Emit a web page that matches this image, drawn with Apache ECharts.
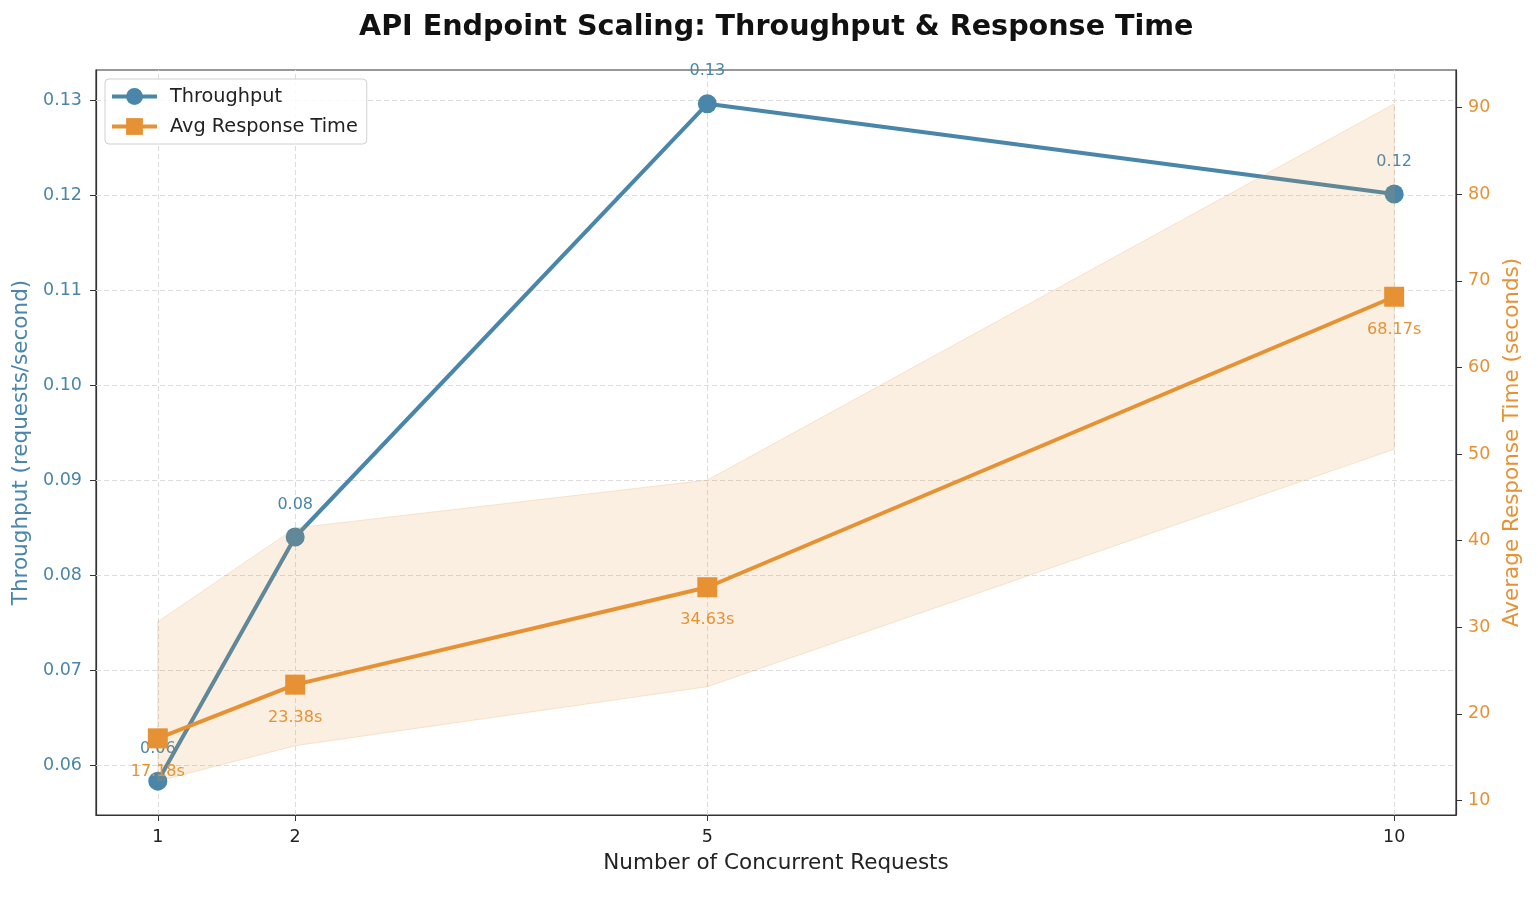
<!DOCTYPE html>
<html>
<head>
<meta charset="utf-8">
<script src="https://cdn.jsdelivr.net/npm/echarts@6/dist/echarts.min.js"></script>
<style>
html,body{margin:0;padding:0;background:#fff;}
#chart{width:1538px;height:898px;}
</style>
</head>
<body>
<div id="chart"></div>
<script>
// ---- data ----
const concurrency = [1, 2, 5, 10];
const throughput = [0.0583, 0.0840, 0.1296, 0.1201];
const responseTime = [17.18, 23.38, 34.63, 68.17];
const responseLower = [12.24, 16.33, 23.14, 50.56];
const responseUpper = [30.65, 41.47, 47.0, 90.44];
const xTicks = [1, 2, 5, 10];
const leftTicks = [0.06, 0.07, 0.08, 0.09, 0.10, 0.11, 0.12, 0.13];
const rightTicks = [10, 20, 30, 40, 50, 60, 70, 80, 90];

const BLUE = '#4986AA';
const ORANGE = '#E69234';
const FONT = 'DejaVu Sans';

const chart = echarts.init(document.getElementById('chart'), null, {renderer: 'canvas'});

const gridLineStyle = {color: '#dcdcdc', type: [5, 3], width: 1};

const option = {
  animation: false,
  backgroundColor: '#fff',
  textStyle: {fontFamily: FONT},
  title: {
    text: 'API Endpoint Scaling: Throughput & Response Time',
    left: 354,
    top: 8,
    textStyle: {fontFamily: FONT, fontSize: 28.6, fontWeight: 'bold', color: '#111'}
  },
  legend: {
    data: ['Throughput', 'Avg Response Time'],
    orient: 'vertical',
    left: 105,
    top: 79,
    padding: [8, 9, 8, 5],
    itemWidth: 45,
    itemHeight: 21,
    itemGap: 11,
    lineStyle: {width: 'inherit'},
    backgroundColor: 'rgba(255,255,255,0.85)',
    borderColor: '#d0d0d0',
    borderWidth: 1,
    borderRadius: 4,
    textStyle: {fontFamily: FONT, fontSize: 19.3, color: '#222', padding: [0, 0, 0, 8]}
  },
  grid: {
    left: 96, right: 82, top: 70, bottom: 83,
    show: true, borderColor: '#333', borderWidth: 1.2,
    containLabel: false
  },
  xAxis: {
    type: 'value',
    min: 0.55, max: 10.45,
    name: 'Number of Concurrent Requests',
    nameLocation: 'middle',
    nameGap: 37,
    nameTextStyle: {fontFamily: FONT, fontSize: 21.5, color: '#222'},
    axisLine: {show: true, lineStyle: {color: '#333', width: 1.2}},
    axisTick: {show: true, length: 6, customValues: xTicks, lineStyle: {color: '#333'}},
    axisLabel: {customValues: xTicks, margin: 13, fontFamily: FONT, fontSize: 17.5, color: '#222'},
    splitLine: {show: false}
  },
  yAxis: [
    {
      type: 'value',
      min: 0.054737, max: 0.133158,
      position: 'left',
      name: 'Throughput (requests/second)',
      nameLocation: 'middle',
      nameGap: 55,
      nameTextStyle: {fontFamily: FONT, fontSize: 21.5, color: BLUE},
      axisLine: {show: true, lineStyle: {color: '#333', width: 1.2}},
      axisTick: {show: true, length: 6, customValues: leftTicks, lineStyle: {color: '#333'}},
      axisLabel: {customValues: leftTicks, margin: 14, fontFamily: FONT, fontSize: 17.5, color: BLUE,
        formatter: v => Number(v).toFixed(2)},
      splitLine: {show: false}
    },
    {
      type: 'value',
      min: 8.33, max: 94.35,
      position: 'right',
      name: 'Average Response Time (seconds)',
      nameLocation: 'middle',
      nameGap: 41,
      nameTextStyle: {fontFamily: FONT, fontSize: 21.5, color: ORANGE},
      axisLine: {show: true, lineStyle: {color: '#333', width: 1.2}},
      axisTick: {show: true, length: 6, customValues: rightTicks, lineStyle: {color: '#333'}},
      axisLabel: {customValues: rightTicks, margin: 12, fontFamily: FONT, fontSize: 17.5, color: ORANGE},
      splitLine: {show: false}
    }
  ],
  series: [
    {
      name: 'Throughput',
      type: 'line',
      xAxisIndex: 0, yAxisIndex: 0,
      z: 2,
      data: concurrency.map((c, i) => [c, throughput[i]]),
      symbol: 'circle',
      symbolSize: 19,
      lineStyle: {color: BLUE, width: 4},
      itemStyle: {color: BLUE},
      label: {
        show: true, position: 'top', distance: 15,
        fontFamily: FONT, fontSize: 16, color: BLUE,
        formatter: p => p.value[1].toFixed(2)
      },
      markLine: {
        silent: true, symbol: 'none', z: 1,
        label: {show: false},
        lineStyle: gridLineStyle,
        emphasis: {disabled: true},
        data: xTicks.map(v => ({xAxis: v})).concat(leftTicks.map(v => ({yAxis: v})))
      }
    },
    {
      name: 'Response Band',
      type: 'custom',
      xAxisIndex: 0, yAxisIndex: 1,
      z: 3,
      silent: true,
      data: concurrency.map((c, i) => [c, responseLower[i], responseUpper[i]]),
      encode: {x: 0, y: [1, 2]},
      renderItem: function (params, api) {
        if (params.dataIndex !== 0) return null;
        const top = concurrency.map((c, i) => api.coord([c, responseUpper[i]]));
        const bottom = concurrency.map((c, i) => api.coord([c, responseLower[i]])).reverse();
        return {
          type: 'polygon',
          shape: {points: top.concat(bottom)},
          style: {fill: 'rgba(230,146,52,0.15)', stroke: 'rgba(230,146,52,0.2)', lineWidth: 1}
        };
      }
    },
    {
      name: 'Avg Response Time',
      type: 'line',
      xAxisIndex: 0, yAxisIndex: 1,
      z: 4,
      data: concurrency.map((c, i) => [c, responseTime[i]]),
      symbol: 'rect',
      symbolSize: 20,
      lineStyle: {color: ORANGE, width: 4},
      itemStyle: {color: ORANGE},
      label: {
        show: true, position: 'bottom', distance: 15,
        fontFamily: FONT, fontSize: 16, color: ORANGE,
        formatter: p => p.value[1].toFixed(2) + 's'
      }
    }
  ]
};

chart.setOption(option);
</script>
</body>
</html>
